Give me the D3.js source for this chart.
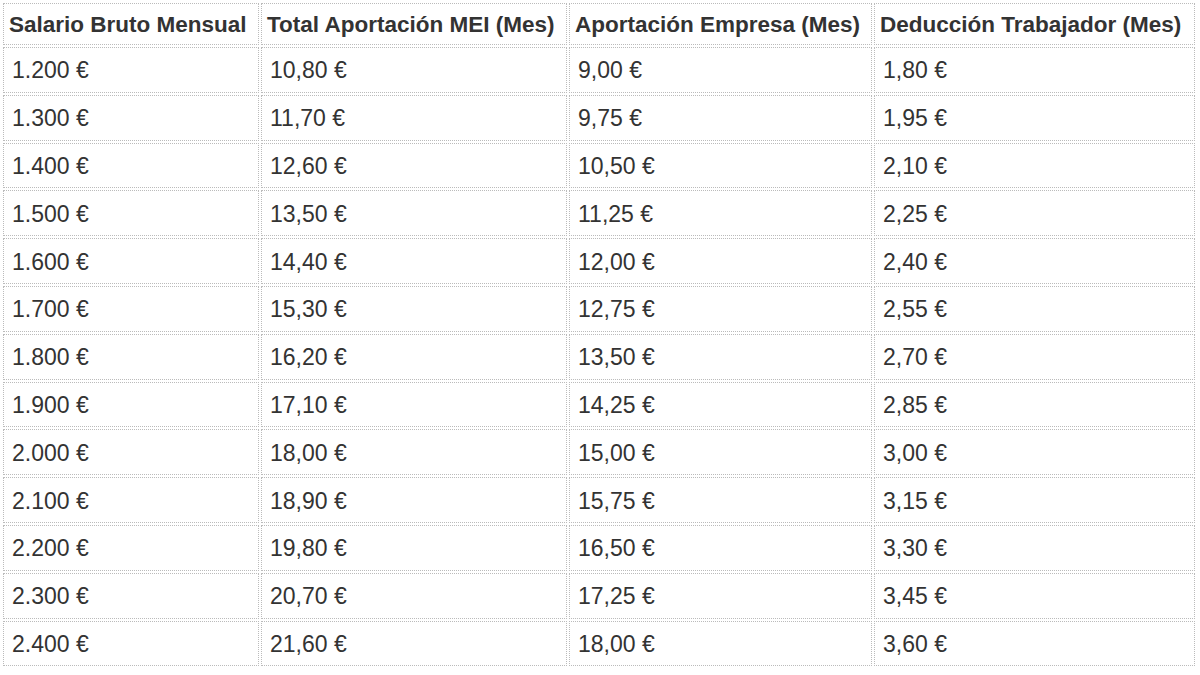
<!DOCTYPE html>
<html><head><meta charset="utf-8">
<script src="https://cdn.jsdelivr.net/npm/d3@7"></script>
<style>
body{margin:0;background:#fff;font-family:"Liberation Sans",Arial,Helvetica,sans-serif;color:#333;}
table{position:absolute;left:1px;top:1px;border-collapse:separate;border-spacing:2px;table-layout:fixed;}
td,th{border:1px dotted #bbb;box-sizing:border-box;padding:2px 0 0 8px;text-align:left;font-size:23px;white-space:nowrap;overflow:hidden;}
th{height:42px;font-weight:bold;padding-left:5px;font-size:22.5px;}
td{height:45.8px;font-weight:normal;}
</style></head><body>
<script>
const headers=["Salario Bruto Mensual","Total Aportación MEI (Mes)","Aportación Empresa (Mes)","Deducción Trabajador (Mes)"];
const salarios=["1.200 €","1.300 €","1.400 €","1.500 €","1.600 €","1.700 €","1.800 €","1.900 €","2.000 €","2.100 €","2.200 €","2.300 €","2.400 €"];
const totalMEI=["10,80 €","11,70 €","12,60 €","13,50 €","14,40 €","15,30 €","16,20 €","17,10 €","18,00 €","18,90 €","19,80 €","20,70 €","21,60 €"];
const empresa=["9,00 €","9,75 €","10,50 €","11,25 €","12,00 €","12,75 €","13,50 €","14,25 €","15,00 €","15,75 €","16,50 €","17,25 €","18,00 €"];
const trabajador=["1,80 €","1,95 €","2,10 €","2,25 €","2,40 €","2,55 €","2,70 €","2,85 €","3,00 €","3,15 €","3,30 €","3,45 €","3,60 €"];
const widths=[256,306,303,321];
const rows=salarios.map((s,i)=>[s,totalMEI[i],empresa[i],trabajador[i]]);
const table=d3.select("body").append("table");
table.append("colgroup").selectAll("col").data(widths).join("col").style("width",d=>d+"px");
table.append("thead").append("tr").selectAll("th").data(headers).join("th").text(d=>d);
table.append("tbody").selectAll("tr").data(rows).join("tr").selectAll("td").data(d=>d).join("td").text(d=>d);
</script>
</body></html>
